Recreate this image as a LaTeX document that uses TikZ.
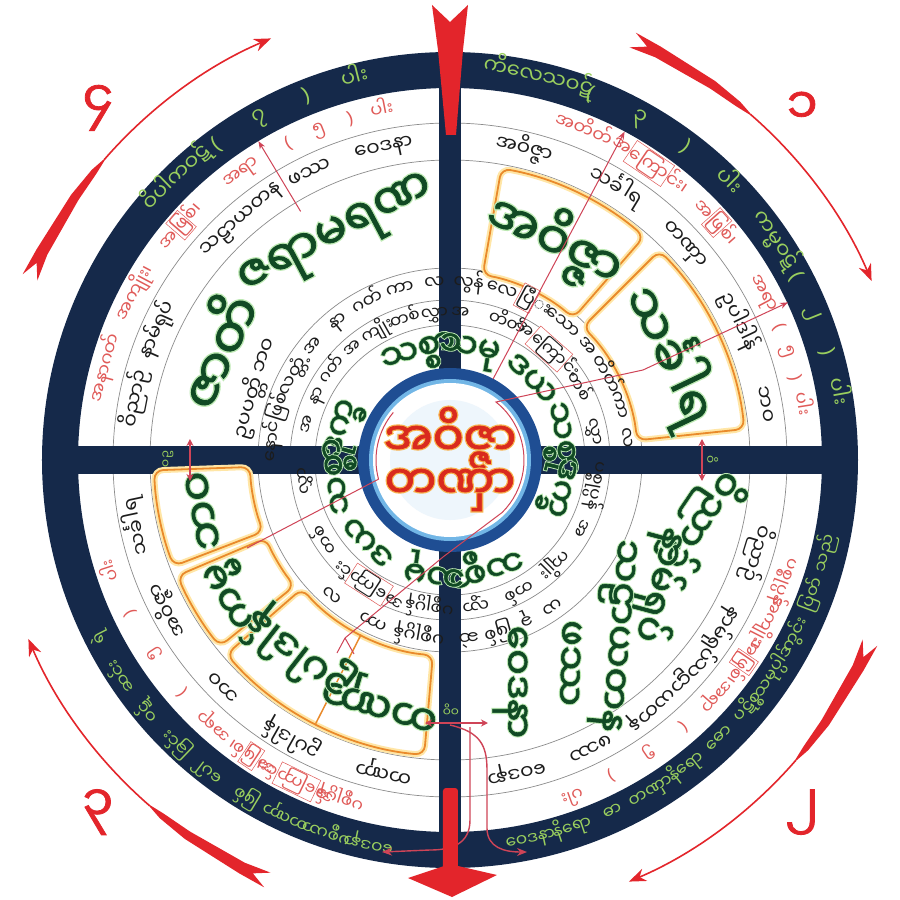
\documentclass[tikz,border=0pt]{standalone}
\usepackage{fontspec}
\usetikzlibrary{arrows.meta}
\newfontfamily\mm[Script=Myanmar]{Noto Sans Myanmar UI}
\newfontfamily\mmb[Script=Myanmar,FakeBold=1.6]{Noto Sans Myanmar UI}
\newfontfamily\mmh[Script=Myanmar,FakeBold=7]{Noto Sans Myanmar UI}
\newfontfamily\lat{Noto Sans}
\definecolor{navy}{HTML}{15294A}
\definecolor{arrred}{HTML}{E3252B}
\definecolor{redtxt}{HTML}{E05A58}
\definecolor{gbig}{HTML}{114A24}
\definecolor{ghalo}{HTML}{BDE9B3}
\definecolor{gring}{HTML}{9ACF5E}
\definecolor{ink}{HTML}{1C1C1C}
\definecolor{ringln}{HTML}{8C8C8C}
\definecolor{boxor}{HTML}{E98A2B}
\definecolor{boxhalo}{HTML}{FFE6A6}
\definecolor{cblue}{HTML}{1F4E93}
\definecolor{cblue2}{HTML}{72B6E6}
\definecolor{cred}{HTML}{D92A1E}
\definecolor{chalo}{HTML}{F8B24E}
\definecolor{conn}{HTML}{CF4457}
\newcommand\fDark{\mm\fontsize{21}{21}\selectfont}
\newcommand\fDarkS{\mm\fontsize{17}{17}\selectfont}
\newcommand\fRed{\mm\fontsize{18}{18}\selectfont}
\newcommand\fRedS{\mm\fontsize{17}{17}\selectfont}
\newcommand\fSmall{\mm\fontsize{20}{20}\selectfont}
\newcommand\fInA{\mm\fontsize{17}{17}\selectfont}
\newcommand\fInB{\mm\fontsize{18}{18}\selectfont}
\newcommand\fGr{\mmb\fontsize{34}{34}\selectfont}
\newcommand\fGrH{\mmh\fontsize{34}{34}\selectfont}
\newcommand\lp{{\lat(}}
\newcommand\rp{{\lat)}}
\newcommand\bx[1]{{\setlength{\fboxsep}{0.4pt}\setlength{\fboxrule}{0.5pt}\fcolorbox{redtxt}{white}{#1}}}
\newcommand\plainwrap[1]{#1}
\newcommand\halowrap[1]{\rlap{\fGrH\color{ghalo}#1}#1}
\let\arcwrap\plainwrap
\newlength\chunkw \newlength\totw \newcount\nch \newcount\tcount
% #1 font, #2 colour, #3 baseline radius, #4 start angle, #5 end angle (all positive), #6 chunks
\newcommand\arcfit[6]{%
  \global\totw=0pt\global\nch=0\relax
  \foreach \chk in {#6}{\settowidth\chunkw{#1\chk}\global\advance\totw by\chunkw\global\advance\nch by 1\relax}%
  \ifdim #4pt>#5pt\relax\def\aOp{-}\pgfmathsetmacro\aSp{(#4-#5)/57.29578*#3}%
  \else\def\aOp{+}\pgfmathsetmacro\aSp{(#5-#4)/57.29578*#3}\fi
  \pgfmathsetmacro\aTw{\the\totw}%
  \ifnum\nch>1\relax
    \pgfmathsetmacro\aGp{(\aSp-\aTw)/(\the\nch-1)}\def\aLd{0}%
  \else
    \def\aGp{0}\pgfmathsetmacro\aLd{(\aSp-\aTw)/2}%
  \fi
  \pgfmathsetmacro\aCu{#4\aOp(\aLd)/#3*57.29578}%
  \xdef\curang{\aCu}%
  \foreach \chk in {#6}{%
    \settowidth\chunkw{#1\chk}%
    \pgfmathsetmacro\aHw{\chunkw/#3*28.64789}%
    \pgfmathsetmacro\aCe{\curang\aOp\aHw}%
    \pgfmathsetmacro\aRo{\aCe\aOp 90}%
    \global\advance\tcount by 1\relax
    \node[inner sep=0,anchor=base,rotate=\aRo,text=#2,font=#1] (t\the\tcount) at (\aCe:#3) {\arcwrap{\chk}};%
    \pgfmathsetmacro\aNx{\curang\aOp(2*\aHw+(\aGp)/#3*57.29578)}%
    \xdef\curang{\aNx}%
  }%
}
% big word with halo: name, position, rotation, size, text
\newcommand\bigword[5]{%
  \node[inner sep=0,rotate=#3,text=gbig,font=\mmb\fontsize{#4}{#4}\selectfont] (#1) at (#2) {\rlap{\mmh\fontsize{#4}{#4}\selectfont\color{ghalo}#5}#5};}
% small ring word: name, angle, text
\newcommand\rw[3]{\node[inner sep=0,anchor=base,text=ink,font=\fSmall,rotate={#2-90}] (#1) at ({#2}:313) {#3};}
% sector box: name, a1, a2, r1, r2
\newcommand\sectorbox[5]{%
  \path[fill=white,draw=boxhalo,line width=6,rounded corners=9] ({#2}:#4) arc[start angle=#2,end angle=#3,radius=#4] -- ({#3}:#5) arc[start angle=#3,end angle=#2,radius=#5] -- cycle;
  \draw[boxor,line width=1.8,rounded corners=9] ({#2}:#4) arc[start angle=#2,end angle=#3,radius=#4] -- ({#3}:#5) arc[start angle=#3,end angle=#2,radius=#5] -- cycle;
  \coordinate (#1) at ({(#2+#3)/2}:{(#4+#5)/2});}
\tikzset{connln/.style={draw=conn,line width=1},
  tip/.style={-{Stealth[length=8,width=6]}},
  dtip/.style={{Stealth[length=7,width=7]}-{Stealth[length=7,width=7]}},
  tagtxt/.style={font=\mm\fontsize{12}{12}\selectfont,text=gring,inner sep=0}}
\begin{document}
\begin{tikzpicture}[x=1pt,y=1pt]
\useasboundingbox (-450,-440) rectangle (450,460);
\fill[white] (-450,-440) rectangle (450,460);
% outer curved arrows
\foreach \c/\lab/\nm in {45/၁/n1,315/၂/n2,225/၃/n3,135/၄/n4}{
  \fill[arrred] ({\c+21.5}:466) -- ({\c+19.5}:458) -- ({\c+21.5}:450) -- ({\c+18}:452) -- ({\c+10}:453.5) -- ({\c+6}:455) -- ({\c+3.5}:458) -- ({\c+6}:461) -- ({\c+10}:462.5) -- ({\c+18}:464) -- cycle;
  \draw[arrred,line width=1.6,-{Stealth[length=17,width=13]}] ({\c+4}:458) arc[start angle={\c+4},end angle={\c-22},radius=458];
  \node[text=arrred,font=\mmb\fontsize{50}{50}\selectfont] (\nm) at (\c:498) {\lab};
}
% navy ring, thin rings, bars
\fill[navy,even odd rule] (0,0) circle[radius=408] (0,0) circle[radius=372];
\foreach \r in {135,160,192,300,337} \draw[ringln,line width=0.7] (0,0) circle[radius=\r];
\fill[navy] (-11,90) rectangle (11,375);
\fill[navy] (-11,-90) rectangle (11,-375);
\fill[navy] (-375,-14) rectangle (-90,14);
\fill[navy] (90,-14) rectangle (375,14);
% boxes
\sectorbox{bxA}{80}{49}{188}{296}
\sectorbox{bxB}{45}{6}{188}{296}
\sectorbox{bxC}{265}{221}{196}{296}
\draw[boxor,line width=1.5] (243:196) -- (243:296);
\sectorbox{bxD}{219}{203}{200}{296}
\sectorbox{bxE}{201}{182}{200}{296}
% centre
\fill[cblue] (0,0) circle[radius=92];
\fill[cblue2] (0,0) circle[radius=81];
\fill[white] (0,0) circle[radius=77];
\fill[cblue2!12] (0,0) circle[radius=60];
\node[text=cred,font=\mmb\fontsize{46}{46}\selectfont] (cA) at (0,22) {\rlap{\mmh\fontsize{46}{46}\selectfont\color{chalo}အဝိဇ္ဇာ}အဝိဇ္ဇာ};
\node[text=cred,font=\mmb\fontsize{46}{46}\selectfont] (cT) at (0,-30) {\rlap{\mmh\fontsize{46}{46}\selectfont\color{chalo}တဏှာ}တဏှာ};
% dark ring texts
\arcfit{\fDark}{gring}{386}{134}{104}{ဝိပါကဝဋ်,\lp,၇,\rp,ပါး}
\arcfit{\fDark}{gring}{386}{77}{45}{ကိလေသဝဋ်,\lp,၃,\rp,ပါး}
\arcfit{\fDark}{gring}{386}{34}{10}{ကမ္မဝဋ်,\lp,၂,\rp,ပါး}
\arcfit{\fDarkS}{gring}{393}{282}{346}{ဝေဒနာ,နိရော,ဓာ,တဏှာ,နိရော,ဓော,ပဋိစ္စ,သမုပ္ပါဒ်,ကွင်း,ပြတ်,သည်}
\arcfit{\fDarkS}{gring}{387}{258}{207}{ဝေဒနာ,ပစ္စယာ,တဏှာ,ဖြစ်,ပေါ်,ခြင်း,ဝဋ်,ဆင်း,ရဲ}
% red ring texts
\arcfit{\fRed}{redtxt}{350}{165}{126}{အနာဂတ်,အကျိုး၊,အ\bx{ဖြ}စ်၊,အရာ}
\arcfit{\fRed}{redtxt}{350}{117}{101}{\lp,၅,\rp,ပါး}
\arcfit{\fRed}{redtxt}{350}{72}{64}{အတိတ်}
\arcfit{\fRed}{redtxt}{350}{56}{28}{အ\bx{ကြော}င်း၊,အ\bx{ဖြ}စ်၊,အရာ}
\arcfit{\fRed}{redtxt}{350}{22}{9}{\lp,၅,\rp,ပါး}
\arcfit{\fRedS}{redtxt}{350}{340}{290}{ပစ္စုပ္ပန်,အကျိုး၊,အ\bx{ဖြ}စ်၊,အရာ,\lp,၅,\rp,ပါး}
\arcfit{\fRedS}{redtxt}{350}{252}{198}{ပစ္စုပ္ပန်,အ\bx{ကြော}င်း၊,အ\bx{ဖြ}စ်၊,အရာ,\lp,၅,\rp,ပါး}
% small ring words
\rw{w1}{169}{ဝိညာဉ်}\rw{w2}{156}{နာမ်ရုပ်}\rw{w3}{131}{သဠာယတန}\rw{w4}{116}{ဖဿ}\rw{w5}{102}{ဝေဒနာ}
\rw{w6}{76.6}{အဝိဇ္ဇာ}\rw{w7}{58.7}{သင်္ခါရ}\rw{w8}{42.6}{တဏှာ}\rw{w9}{25.6}{ဥပါဒါန်}\rw{w10}{10}{ဘဝ}
\rw{w11}{343}{ဝိညာဉ်}\rw{w12}{327}{နာမ်ရုပ်}\rw{w13}{313}{သဠာယတန}\rw{w14}{296}{ဖဿ}\rw{w15}{282}{ဝေဒနာ}
\rw{w16}{258}{တဏှာ}\rw{w17}{240.5}{ဥပါဒါန်}\rw{w18}{225}{ဘဝ}\rw{w19}{208}{အဝိဇ္ဇာ}\rw{w20}{192}{သင်္ခါရ}
% inner ring 2
\arcfit{\fInA}{ink}{142}{166}{96}{အ,နာ,ဂတ်,အ,ကျိုး,တစ်,လွှာ}
\arcfit{\fInA}{ink}{142}{86}{11}{အ,တိတ်,အ\bx{ကြော}င်း,တစ်,လွှာ}
\arcfit{\fInA}{ink}{142}{350}{280}{ပစ္စုပ္ပန်,အ,ကျိုး,တစ်,လွှာ}
\arcfit{\fInA}{ink}{142}{262}{188}{ပစ္စုပ္ပန်,အ\bx{ကြော}င်း,တစ်,လွှာ}
% inner ring 3
\arcfit{\fInB}{ink}{172}{174}{95}{နောင်,ဖြစ်,လတ္တံ့,အ,နာ,ဂတ်,ကာ,လ}
\arcfit{\fInB}{ink}{172}{84}{7}{လွန်,လေ,\bx{ပြီ}း,သော,အ,တိတ်,ကာ,လ}
\arcfit{\fInB}{ink}{172}{305}{276}{ယ,ခု,ဖြစ်,ဆဲ}
\arcfit{\fInB}{ink}{172}{260}{229}{ပစ္စုပ္ပန်,ကာ,လ}
% inner green (with halo)
\let\arcwrap\halowrap
\arcfit{\fGr}{gbig}{103}{164}{106}{ဒုက္ခ,သစ္စာ}
\arcfit{\fGr}{gbig}{103}{80}{10}{သမု,ဒယ,သစ္စာ}
\arcfit{\fGr}{gbig}{103}{346}{288}{ဒုက္ခ,သစ္စာ}
\arcfit{\fGr}{gbig}{103}{262}{188}{သမု,ဒယ,သစ္စာ}
\let\arcwrap\plainwrap
% big words
\bigword{ul1}{-234,110}{65}{52}{ဇာတိ}
\bigword{ul2}{-112,222}{28}{48}{ဇရာမရဏ}
\node[inner sep=0,text=ink,font=\fSmall,rotate=74] (ul3) at (-196,72) {ဥပပတ္တိ ဘဝ};
\bigword{ur1}{64.5:243}{-25.5}{50}{အဝိဇ္ဇာ}
\bigword{ur2}{25.5:243}{-64.5}{50}{သင်္ခါရ}
\bigword{lr1}{252,-60}{-124}{38}{ဝိညာဉ်}
\bigword{lr2}{210,-125}{-105}{38}{နာမ်ရုပ်}
\bigword{lr3}{162,-175}{-95}{38}{သဠာယတန}
\bigword{lr4}{118,-203}{-92}{38}{ဖဿ}
\bigword{lr5}{60,-222}{-90}{38}{ဝေဒနာ}
\bigword{ll4}{254:248}{164}{42}{တဏှာ}
\bigword{ll3}{232:246}{142}{40}{ဥပါဒါန်}
\bigword{ll2}{211.5:252}{121.5}{40}{ကမ္မ}
\bigword{ll1}{191.5:250}{101.5}{44}{ဘဝ}
% bar tags
\node[tagtxt,rotate=90] (tagL) at (-282,1) {ဝဥ};
\node[tagtxt,rotate=-90] (tagR) at (262,0) {ဝိ};
\node[tagtxt] (tagB) at (1,-250) {ဝိဝ};
% red connectors
\coordinate (ulA) at (121:290); \coordinate (ulB) at (121:372);
\draw[connln,tip] (ulA) -- (ulB);
\coordinate (urA) at (62:92); \coordinate (urB) at (62:372);
\draw[connln,tip] (urA) -- (urB);
\coordinate (urC) at (25:213); \coordinate (urD) at (25:373);
\draw[connln,tip] (urC) -- (urD);
\coordinate (yJ) at (-105,-178);
\draw[connln] (urC) -- (51.6:74) arc[start angle=51.6,end angle=-45,radius=74] -- (-7,-97) -- (yJ);
\draw[connln] (yJ) -- (-113,-193); \draw[connln] (yJ) -- (-96,-194);
\coordinate (llJ) at (-203,-88);
\draw[connln] (140:74) arc[start angle=140,end angle=195,radius=74] -- (llJ);
\draw[connln,line width=1.6,dtip] (-260,21) -- (-260,-21);
\draw[connln,line width=1.6,dtip] (252,21) -- (252,-21);
\draw[connln,line width=1.6,dtip] (-25,-263) -- (38,-263);
\draw[connln,line width=1.4,-{Stealth[length=10,width=8]}] (0,-265) .. controls (30,-272) and (37,-285) .. (37,-310) -- (37,-368) .. controls (37,-388) and (55,-392) .. (77,-392);
\draw[connln,line width=1.4,-{Stealth[length=10,width=8]}] (20,-267) -- (20,-360) .. controls (20,-385) and (0,-390) .. (-20,-390) -- (-68,-392);
% big red arrow tail (top) and head (bottom)
\fill[arrred] (-18,455) -- (0,438) -- (18,455) -- (13,410) -- (6,325) -- (-4,325) -- (-12,410) -- cycle;
\fill[arrred,rounded corners=3] (-7,-328) rectangle (8,-412);
\fill[arrred] (-42,-418) -- (-6,-406) -- (8,-406) -- (47,-415) -- (2,-437) -- cycle;
\end{tikzpicture}
\end{document}
